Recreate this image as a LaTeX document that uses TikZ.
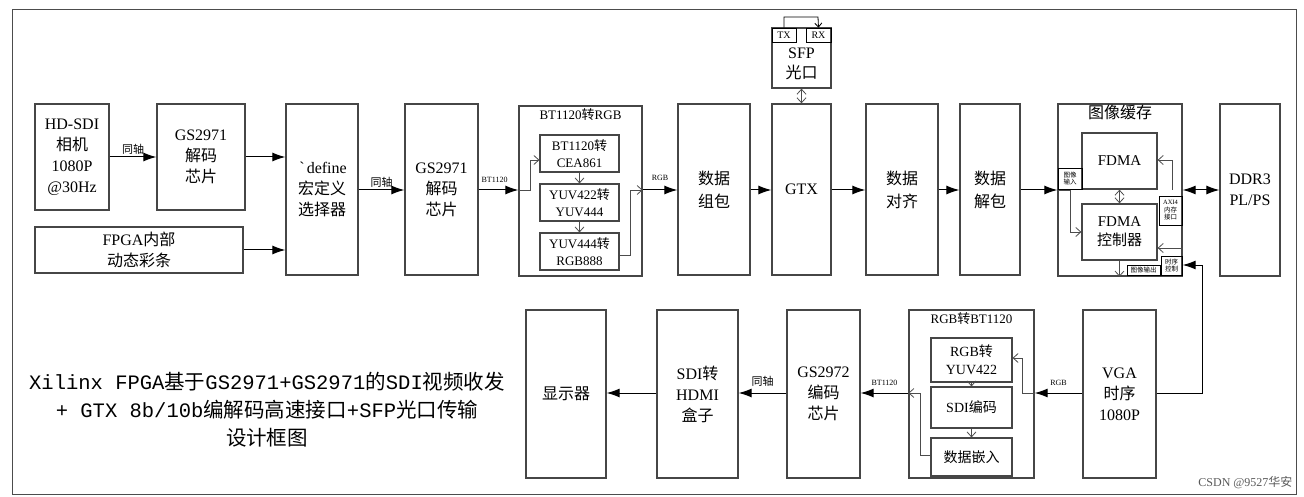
\documentclass[tikz,border=0pt]{standalone}
\usepackage{fontspec}
\setmainfont{Liberation Serif}
\newfontfamily\cjk{Noto Sans CJK SC}
\newfontfamily\mono{Liberation Mono}
\newcommand{\zh}[1]{{\cjk #1}}
\usetikzlibrary{positioning}
\usetikzlibrary{arrows.meta}
\tikzset{
    % big filled arrow between blocks
    flow/.style={-{Latex[length=13pt,width=9pt]}, line width=1pt},
    both flow/.style={{Latex[length=13pt,width=9pt]}-{Latex[length=13pt,width=9pt]}, line width=1pt},
    % thin internal arrow with an open tip
    inner/.style={-{Straight Barb[length=5pt,width=9pt]}, line width=0.8pt, gray!60!black},
    both inner/.style={{Straight Barb[length=5pt,width=9pt]}-{Straight Barb[length=5pt,width=9pt]}, line width=0.8pt, gray!60!black},
    % plain block
    blk/.style={draw=gray!55!black, line width=1.3pt, align=center,
        inner sep=0pt, font=\fontsize{16}{21}\selectfont},
    sub/.style={blk, line width=1.1pt, font=\fontsize{14}{18}\selectfont},
    tiny/.style={draw, line width=0.6pt, inner sep=0pt, align=center,
        font=\fontsize{6.5}{7.5}\selectfont\cjk},
    tag/.style={font=\fontsize{8}{9}\selectfont, inner sep=1pt},
    coax/.style={font=\fontsize{11}{12}\selectfont\cjk, inner sep=2pt}}
% corner to corner block: name, x1, y1, x2, y2
\newcommand{\cornerblk}[6][blk]{%
    \node (#2) [#1, minimum width={#5-#3}, minimum height={#6-#4}]
        at ({(#3+#5)/2},{(#4+#6)/2}) {};}

\begin{document}
\begin{tikzpicture}[x=1pt, y=-1pt]
\useasboundingbox (0,0) rectangle (1304,497);
\draw[gray!60!black, line width=1pt] (12,10) rectangle (1296,494);

% top row
\cornerblk{cam}{35}{104}{109}{210}
\node[align=center, font=\fontsize{16}{21}\selectfont] at (cam) {HD-SDI\\\zh{相机}\\1080P\\@30Hz};
\cornerblk{dec1}{157}{104}{245}{210}
\node[align=center, font=\fontsize{16}{21}\selectfont] at (dec1) {GS2971\\\zh{解码}\\\zh{芯片}};
\cornerblk{bars}{35}{227}{243}{273}
\node[align=center, font=\fontsize{16}{21}\selectfont] at (bars) {FPGA\zh{内部}\\\zh{动态彩条}};
\cornerblk{sel}{286}{104}{358}{275}
\node[align=center, font=\fontsize{16}{21}\selectfont] at (sel) {{\mono\char96}define\\\zh{宏定义}\\\zh{选择器}};
\cornerblk{dec2}{405}{104}{478}{275}
\node[align=center, font=\fontsize{16}{21}\selectfont] at (dec2) {GS2971\\\zh{解码}\\\zh{芯片}};

% BT1120 to RGB group
\cornerblk{torgb}{519}{106}{642}{276}
\node[anchor=north, font=\fontsize{13}{15}\selectfont] at (torgb.north) {BT1120\zh{转}RGB};
\cornerblk[sub]{cea}{540}{135}{619}{172}
\node[align=center, font=\fontsize{13}{17}\selectfont] at (cea) {BT1120\zh{转}\\CEA861};
\cornerblk[sub]{yuv}{540}{184}{619}{221}
\node[align=center, font=\fontsize{13}{17}\selectfont] at (yuv) {YUV422\zh{转}\\YUV444};
\cornerblk[sub]{rgb}{540}{233}{619}{270}
\node[align=center, font=\fontsize{13}{17}\selectfont] at (rgb) {YUV444\zh{转}\\RGB888};

\cornerblk{pack}{678}{104}{750}{275}
\node[align=center, font=\fontsize{16}{23}\selectfont] at (pack) {\zh{数据}\\\zh{组包}};
\cornerblk{gtx}{772}{104}{831}{275}
\node[font=\fontsize{16}{21}\selectfont] at (gtx) {GTX};
\cornerblk{sfp}{772}{28}{831}{88}
\node[align=center, font=\fontsize{16}{20}\selectfont, yshift=-6pt] at (sfp) {SFP\\\zh{光口}};
\cornerblk[tiny]{tx}{772}{28}{796}{42}
\node[font=\fontsize{10}{10}\selectfont] at (tx) {TX};
\cornerblk[tiny]{rx}{806}{28}{831}{42}
\node[font=\fontsize{10}{10}\selectfont] at (rx) {RX};
\cornerblk{align}{866}{104}{938}{275}
\node[align=center, font=\fontsize{16}{23}\selectfont] at (align) {\zh{数据}\\\zh{对齐}};
\cornerblk{unpack}{960}{104}{1020}{275}
\node[align=center, font=\fontsize{16}{23}\selectfont] at (unpack) {\zh{数据}\\\zh{解包}};

% frame buffer group
\cornerblk{cache}{1058}{104}{1182}{276}
\node[anchor=north, font=\fontsize{16}{18}\selectfont\cjk, inner sep=2pt] at (cache.north) {图像缓存};
\cornerblk{fdma}{1082}{133}{1157}{189}
\node[font=\fontsize{15}{18}\selectfont] at (fdma) {FDMA};
\cornerblk{ctrl}{1082}{204}{1157}{260}
\node[align=center, font=\fontsize{15}{19}\selectfont] at (ctrl) {FDMA\\\zh{控制器}};
\cornerblk[tiny]{imgin}{1058}{168}{1082}{189}
\node[tiny, draw=none] at (imgin) {图像\\输入};
\cornerblk[tiny]{axi}{1159}{196}{1182}{225}
\node[tiny, draw=none] at (axi) {\rmfamily AXI4\\\cjk 内存\\\cjk 接口};
\cornerblk[tiny]{tim}{1161}{256}{1182}{275}
\node[tiny, draw=none] at (tim) {时序\\控制};
\cornerblk[tiny]{imgout}{1127}{265}{1160}{275}
\node[tiny, draw=none] at (imgout) {图像输出};
\cornerblk{ddr}{1220}{104}{1280}{276}
\node[align=center, font=\fontsize{16}{21}\selectfont] at (ddr) {DDR3\\PL/PS};

% bottom row
\cornerblk{disp}{526}{310}{606}{478}
\node[font=\fontsize{16}{21}\selectfont\cjk] at (disp) {显示器};
\cornerblk{hdmi}{657}{310}{738}{478}
\node[align=center, font=\fontsize{16}{21}\selectfont] at (hdmi) {SDI\zh{转}\\HDMI\\\zh{盒子}};
\cornerblk{enc}{787}{310}{860}{478}
\node[align=center, font=\fontsize{16}{21}\selectfont] at (enc) {GS2972\\\zh{编码}\\\zh{芯片}};
\cornerblk{tobt}{909}{310}{1034}{478}
\node[anchor=north, font=\fontsize{13}{15}\selectfont] at (tobt.north) {RGB\zh{转}BT1120};
\cornerblk[sub]{ycc}{931}{338}{1012}{382}
\node[align=center, font=\fontsize{14}{18}\selectfont] at (ycc) {RGB\zh{转}\\YUV422};
\cornerblk[sub]{sdienc}{931}{387}{1012}{428}
\node[font=\fontsize{14}{18}\selectfont] at (sdienc) {SDI\zh{编码}};
\cornerblk[sub]{embed}{931}{438}{1012}{476}
\node[font=\fontsize{14}{18}\selectfont\cjk] at (embed) {数据嵌入};
\cornerblk{vga}{1083}{310}{1156}{478}
\node[align=center, font=\fontsize{16}{21}\selectfont] at (vga) {VGA\\\zh{时序}\\1080P};

\node (title) [align=center, font=\fontsize{20.5}{28}\selectfont\mono] at (267,410)
    {Xilinx FPGA\zh{基于}GS2971+GS2971\zh{的}SDI\zh{视频收发}\\+ GTX 8b/10b\zh{编解码高速接口}+SFP\zh{光口传输}\\\zh{设计框图}};
\node[anchor=south east, font=\fontsize{12}{14}\selectfont, gray!70!black] at (1296,492) {CSDN @9527\zh{华安}};

% top row connections
\draw[flow] (cam.east |- 0,157) -- (dec1.west |- 0,157) node[coax, midway, above] {同轴};
\draw[flow] (dec1.east |- 0,157) -- (sel.west |- 0,157);
\draw[flow] (bars.east |- 0,250) -- (sel.west |- 0,250);
\draw[flow] (sel.east |- 0,190) -- (dec2.west |- 0,190) node[coax, midway, above] {同轴};
\draw[flow] (dec2.east |- 0,190) -- (torgb.west |- 0,190) node[tag, pos=0.4, above, yshift=6pt] {BT1120};
\draw[inner] (torgb.west |- 0,190) -| (530,160) -- (cea.west |- 0,160);
\draw[inner] (cea) -- (yuv);
\draw[inner] (yuv) -- (rgb);
\draw[inner] (rgb.east |- 0,255) -| (630,190) -- (torgb.east |- 0,190);
\draw[flow] (torgb.east |- 0,190) -- (pack.west |- 0,190) node[tag, midway, above, yshift=8pt] {RGB};
\draw[flow] (pack.east |- 0,190) -- (gtx.west |- 0,190);
\draw[flow] (gtx.east |- 0,190) -- (align.west |- 0,190);
\draw[flow] (align.east |- 0,190) -- (unpack.west |- 0,190);
\draw[flow] (unpack.east |- 0,190) -- (cache.west |- 0,190);
\draw[both inner] (sfp.south) -- (gtx.north);
\draw[-{Straight Barb[length=4pt,width=7pt]}, line width=0.8pt] (tx.north) |- (818,17) -- (rx.north);

% frame buffer connections
\draw[inner] (cache.west |- 0,190) -| (1070,232) -- (ctrl.west |- 0,232);
\draw[both inner] (fdma) -- (ctrl);
\draw[both flow] (cache.east |- 0,190) -- (ddr.west |- 0,190);
\draw[inner] (1172,190) |- (fdma.east |- 0,160);
\draw[inner] (cache.east |- 0,248) -- (ctrl.east |- 0,248);
\draw[inner] (ctrl.south) -- (cache.south -| ctrl.south);
\draw[flow] (vga.east |- 0,393) -| (1202,265) -- (cache.east |- 0,265);

% bottom row connections
\draw[flow] (vga.west |- 0,393) -- (tobt.east |- 0,393) node[tag, midway, above, yshift=6pt] {RGB};
\draw[inner] (tobt.east |- 0,393) -| (1022,358) -- (ycc.east |- 0,358);
\draw[inner] (ycc) -- (sdienc);
\draw[inner] (sdienc) -- (embed);
\draw[inner] (embed.west |- 0,455) -| (920,393) -- (tobt.west |- 0,393);
\draw[flow] (tobt.west |- 0,393) -- (enc.east |- 0,393) node[tag, midway, above, yshift=6pt] {BT1120};
\draw[flow] (enc.west |- 0,393) -- (hdmi.east |- 0,393) node[coax, midway, above, yshift=4pt] {同轴};
\draw[flow] (hdmi.west |- 0,393) -- (disp.east |- 0,393);
\end{tikzpicture}
\end{document}
